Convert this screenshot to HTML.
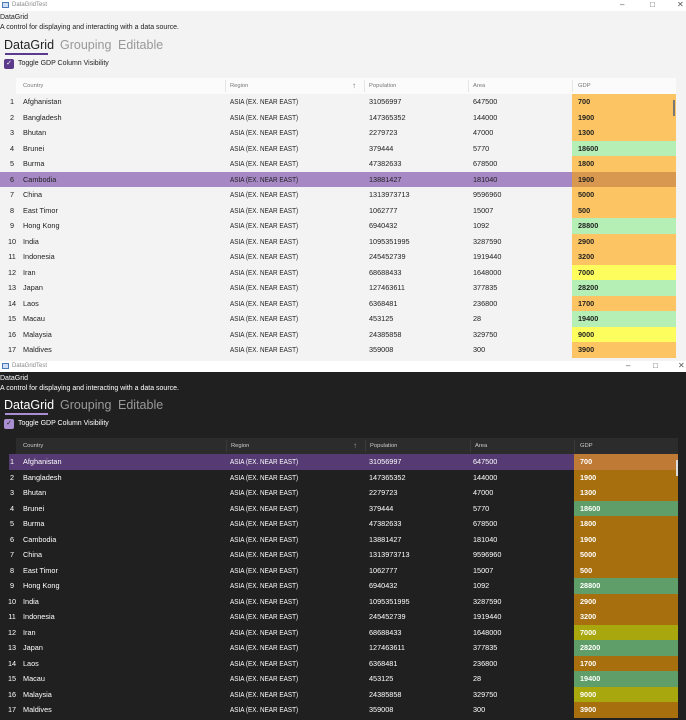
<!DOCTYPE html>
<html><head><meta charset="utf-8"><style>
*{margin:0;padding:0;box-sizing:border-box}
body{width:686px;height:720px;overflow:hidden;font-family:"Liberation Sans",sans-serif;position:relative;background:#f3f3f3}
.win{position:absolute;left:0;width:686px;overflow:hidden}
.tb{position:absolute;left:0;top:0;width:686px;height:11px;background:#fff;font-size:6px;color:#888}
.tb .t{position:absolute;left:12px;top:2px}
.tb .ic{position:absolute;left:2px;top:2px;width:7px;height:6px;border:1px solid #4a7ab8;background:#cfe0f5}
.tb .c{position:absolute;top:0;font-size:8px;color:#555}
.abs{position:absolute;white-space:nowrap}
.h1{font-size:7px;left:0}
.tab{font-size:12.5px;top:0}
.row{position:absolute;left:0;width:686px;height:15.5px;font-size:7.3px;line-height:15.5px}
.row span{position:absolute;top:0;line-height:15.5px}
.n{left:8px;width:8px;text-align:center}
.c1{left:23px}.c2{left:230px;transform:scaleX(0.87);transform-origin:0 50%}.c3{left:369px}.c4{left:473px}
.g{font-weight:bold;padding-left:6px;width:104px}
.hdr{position:absolute;height:16px;font-size:5.8px;line-height:16px}
.hdr span{position:absolute;top:0}
.sep{position:absolute;top:2px;width:1px;height:12px}
</style></head><body>

<!-- LIGHT -->
<div class="win" style="top:0;height:361px;background:#f3f3f3;color:#222">
<div class="tb"><div class="ic"></div><span class="t">DataGridTest</span><span class="c" style="left:620px">&#8211;</span><span class="c" style="left:650px">&#9633;</span><span class="c" style="left:677px">&#10005;</span></div>
<div class="abs h1" style="top:14px">DataGrid</div>
<div class="abs h1" style="top:24px">A control for displaying and interacting with a data source.</div>
<div class="abs tab" style="left:4px;top:38px;color:#222">DataGrid</div>
<div class="abs tab" style="left:60px;top:38px;color:#999">Grouping</div>
<div class="abs tab" style="left:118px;top:38px;color:#999">Editable</div>
<div class="abs" style="left:5px;top:53px;width:43px;height:2px;background:#5c3a8e"></div>
<div class="abs" style="left:4px;top:59px;width:10px;height:10px;background:#5b3a8c;border-radius:2px;color:#fff;font-size:7px;line-height:10px;text-align:center">&#10003;</div>
<div class="abs" style="left:18px;top:60px;font-size:7px">Toggle GDP Column Visibility</div>
<div class="hdr" style="left:16px;top:78px;width:660px;background:#fbfbfb;color:#777">
<span style="left:7px">Country</span><span style="left:214px">Region</span><span style="left:336px;font-size:8px">&#8593;</span><span style="left:353px">Population</span><span style="left:457px">Area</span><span style="left:562px">GDP</span>
<div class="sep" style="left:209px;background:#e6e6e6"></div><div class="sep" style="left:348px;background:#e6e6e6"></div><div class="sep" style="left:452px;background:#e6e6e6"></div><div class="sep" style="left:556px;background:#e6e6e6"></div>
</div>
<div style="position:absolute;left:0;top:94px">
<div class="row" style="top:0"><span class="n">1</span><span class="c1">Afghanistan</span><span class="c2">ASIA (EX. NEAR EAST)</span><span class="c3">31056997</span><span class="c4">647500</span><span class="g" style="left:572px;background:#fcc462">700</span></div>
<div class="row" style="top:15.5px"><span class="n">2</span><span class="c1">Bangladesh</span><span class="c2">ASIA (EX. NEAR EAST)</span><span class="c3">147365352</span><span class="c4">144000</span><span class="g" style="left:572px;background:#fcc462">1900</span></div>
<div class="row" style="top:31px"><span class="n">3</span><span class="c1">Bhutan</span><span class="c2">ASIA (EX. NEAR EAST)</span><span class="c3">2279723</span><span class="c4">47000</span><span class="g" style="left:572px;background:#fcc462">1300</span></div>
<div class="row" style="top:46.5px"><span class="n">4</span><span class="c1">Brunei</span><span class="c2">ASIA (EX. NEAR EAST)</span><span class="c3">379444</span><span class="c4">5770</span><span class="g" style="left:572px;background:#b5efb5">18600</span></div>
<div class="row" style="top:62px"><span class="n">5</span><span class="c1">Burma</span><span class="c2">ASIA (EX. NEAR EAST)</span><span class="c3">47382633</span><span class="c4">678500</span><span class="g" style="left:572px;background:#fcc462">1800</span></div>
<div class="row" style="top:77.5px;background:linear-gradient(90deg,#a688c4 0,#a688c4 572px,transparent 572px)"><span class="n">6</span><span class="c1">Cambodia</span><span class="c2">ASIA (EX. NEAR EAST)</span><span class="c3">13881427</span><span class="c4">181040</span><span class="g" style="left:572px;background:#d9984f">1900</span></div>
<div class="row" style="top:93px"><span class="n">7</span><span class="c1">China</span><span class="c2">ASIA (EX. NEAR EAST)</span><span class="c3">1313973713</span><span class="c4">9596960</span><span class="g" style="left:572px;background:#fcc462">5000</span></div>
<div class="row" style="top:108.5px"><span class="n">8</span><span class="c1">East Timor</span><span class="c2">ASIA (EX. NEAR EAST)</span><span class="c3">1062777</span><span class="c4">15007</span><span class="g" style="left:572px;background:#fcc462">500</span></div>
<div class="row" style="top:124px"><span class="n">9</span><span class="c1">Hong Kong</span><span class="c2">ASIA (EX. NEAR EAST)</span><span class="c3">6940432</span><span class="c4">1092</span><span class="g" style="left:572px;background:#b5efb5">28800</span></div>
<div class="row" style="top:139.5px"><span class="n">10</span><span class="c1">India</span><span class="c2">ASIA (EX. NEAR EAST)</span><span class="c3">1095351995</span><span class="c4">3287590</span><span class="g" style="left:572px;background:#fcc462">2900</span></div>
<div class="row" style="top:155px"><span class="n">11</span><span class="c1">Indonesia</span><span class="c2">ASIA (EX. NEAR EAST)</span><span class="c3">245452739</span><span class="c4">1919440</span><span class="g" style="left:572px;background:#fcc462">3200</span></div>
<div class="row" style="top:170.5px"><span class="n">12</span><span class="c1">Iran</span><span class="c2">ASIA (EX. NEAR EAST)</span><span class="c3">68688433</span><span class="c4">1648000</span><span class="g" style="left:572px;background:#fdfd5e">7000</span></div>
<div class="row" style="top:186px"><span class="n">13</span><span class="c1">Japan</span><span class="c2">ASIA (EX. NEAR EAST)</span><span class="c3">127463611</span><span class="c4">377835</span><span class="g" style="left:572px;background:#b5efb5">28200</span></div>
<div class="row" style="top:201.5px"><span class="n">14</span><span class="c1">Laos</span><span class="c2">ASIA (EX. NEAR EAST)</span><span class="c3">6368481</span><span class="c4">236800</span><span class="g" style="left:572px;background:#fcc462">1700</span></div>
<div class="row" style="top:217px"><span class="n">15</span><span class="c1">Macau</span><span class="c2">ASIA (EX. NEAR EAST)</span><span class="c3">453125</span><span class="c4">28</span><span class="g" style="left:572px;background:#b5efb5">19400</span></div>
<div class="row" style="top:232.5px"><span class="n">16</span><span class="c1">Malaysia</span><span class="c2">ASIA (EX. NEAR EAST)</span><span class="c3">24385858</span><span class="c4">329750</span><span class="g" style="left:572px;background:#fdfd5e">9000</span></div>
<div class="row" style="top:248px"><span class="n">17</span><span class="c1">Maldives</span><span class="c2">ASIA (EX. NEAR EAST)</span><span class="c3">359008</span><span class="c4">300</span><span class="g" style="left:572px;background:#fcc462">3900</span></div>
</div>
<div class="abs" style="left:673px;top:100px;width:1.5px;height:16px;background:#777"></div>
</div>

<!-- DARK -->
<div class="win" style="top:361px;height:359px;background:#202020;color:#fff">
<div class="tb"><div class="ic"></div><span class="t">DataGridTest</span><span class="c" style="left:626px">&#8211;</span><span class="c" style="left:653px">&#9633;</span><span class="c" style="left:678px">&#10005;</span></div>
<div class="abs h1" style="top:14px">DataGrid</div>
<div class="abs h1" style="top:24px">A control for displaying and interacting with a data source.</div>
<div class="abs tab" style="left:4px;top:37px;color:#fff">DataGrid</div>
<div class="abs tab" style="left:60px;top:37px;color:#999">Grouping</div>
<div class="abs tab" style="left:118px;top:37px;color:#999">Editable</div>
<div class="abs" style="left:5px;top:52px;width:43px;height:2px;background:#a98fd1"></div>
<div class="abs" style="left:4px;top:58px;width:10px;height:10px;background:#a98fd1;border-radius:2px;color:#202020;font-size:7px;line-height:10px;text-align:center">&#10003;</div>
<div class="abs" style="left:18px;top:59px;font-size:7px">Toggle GDP Column Visibility</div>
<div class="hdr" style="left:16px;top:77px;width:662px;background:#2c2c2c;color:#ccc">
<span style="left:7px">Country</span><span style="left:215px">Region</span><span style="left:337px;font-size:8px;color:#999">&#8593;</span><span style="left:354px">Population</span><span style="left:459px">Area</span><span style="left:564px">GDP</span>
<div class="sep" style="left:210px;background:#3a3a3a"></div><div class="sep" style="left:349px;background:#3a3a3a"></div><div class="sep" style="left:454px;background:#3a3a3a"></div><div class="sep" style="left:558px;background:#3a3a3a"></div>
</div>
<div style="position:absolute;left:0;top:93.3px">
<div class="row" style="top:0;background:linear-gradient(90deg,transparent 0,transparent 9px,#553a73 9px,#553a73 574px,transparent 574px)"><span class="n">1</span><span class="c1">Afghanistan</span><span class="c2">ASIA (EX. NEAR EAST)</span><span class="c3">31056997</span><span class="c4">647500</span><span class="g" style="left:574px;background:#bf7a36">700</span></div>
<div class="row" style="top:15.5px"><span class="n">2</span><span class="c1">Bangladesh</span><span class="c2">ASIA (EX. NEAR EAST)</span><span class="c3">147365352</span><span class="c4">144000</span><span class="g" style="left:574px;background:#a86f0e">1900</span></div>
<div class="row" style="top:31px"><span class="n">3</span><span class="c1">Bhutan</span><span class="c2">ASIA (EX. NEAR EAST)</span><span class="c3">2279723</span><span class="c4">47000</span><span class="g" style="left:574px;background:#a86f0e">1300</span></div>
<div class="row" style="top:46.5px"><span class="n">4</span><span class="c1">Brunei</span><span class="c2">ASIA (EX. NEAR EAST)</span><span class="c3">379444</span><span class="c4">5770</span><span class="g" style="left:574px;background:#5f9e68">18600</span></div>
<div class="row" style="top:62px"><span class="n">5</span><span class="c1">Burma</span><span class="c2">ASIA (EX. NEAR EAST)</span><span class="c3">47382633</span><span class="c4">678500</span><span class="g" style="left:574px;background:#a86f0e">1800</span></div>
<div class="row" style="top:77.5px"><span class="n">6</span><span class="c1">Cambodia</span><span class="c2">ASIA (EX. NEAR EAST)</span><span class="c3">13881427</span><span class="c4">181040</span><span class="g" style="left:574px;background:#a86f0e">1900</span></div>
<div class="row" style="top:93px"><span class="n">7</span><span class="c1">China</span><span class="c2">ASIA (EX. NEAR EAST)</span><span class="c3">1313973713</span><span class="c4">9596960</span><span class="g" style="left:574px;background:#a86f0e">5000</span></div>
<div class="row" style="top:108.5px"><span class="n">8</span><span class="c1">East Timor</span><span class="c2">ASIA (EX. NEAR EAST)</span><span class="c3">1062777</span><span class="c4">15007</span><span class="g" style="left:574px;background:#a86f0e">500</span></div>
<div class="row" style="top:124px"><span class="n">9</span><span class="c1">Hong Kong</span><span class="c2">ASIA (EX. NEAR EAST)</span><span class="c3">6940432</span><span class="c4">1092</span><span class="g" style="left:574px;background:#5f9e68">28800</span></div>
<div class="row" style="top:139.5px"><span class="n">10</span><span class="c1">India</span><span class="c2">ASIA (EX. NEAR EAST)</span><span class="c3">1095351995</span><span class="c4">3287590</span><span class="g" style="left:574px;background:#a86f0e">2900</span></div>
<div class="row" style="top:155px"><span class="n">11</span><span class="c1">Indonesia</span><span class="c2">ASIA (EX. NEAR EAST)</span><span class="c3">245452739</span><span class="c4">1919440</span><span class="g" style="left:574px;background:#a86f0e">3200</span></div>
<div class="row" style="top:170.5px"><span class="n">12</span><span class="c1">Iran</span><span class="c2">ASIA (EX. NEAR EAST)</span><span class="c3">68688433</span><span class="c4">1648000</span><span class="g" style="left:574px;background:#a8a80e">7000</span></div>
<div class="row" style="top:186px"><span class="n">13</span><span class="c1">Japan</span><span class="c2">ASIA (EX. NEAR EAST)</span><span class="c3">127463611</span><span class="c4">377835</span><span class="g" style="left:574px;background:#5f9e68">28200</span></div>
<div class="row" style="top:201.5px"><span class="n">14</span><span class="c1">Laos</span><span class="c2">ASIA (EX. NEAR EAST)</span><span class="c3">6368481</span><span class="c4">236800</span><span class="g" style="left:574px;background:#a86f0e">1700</span></div>
<div class="row" style="top:217px"><span class="n">15</span><span class="c1">Macau</span><span class="c2">ASIA (EX. NEAR EAST)</span><span class="c3">453125</span><span class="c4">28</span><span class="g" style="left:574px;background:#5f9e68">19400</span></div>
<div class="row" style="top:232.5px"><span class="n">16</span><span class="c1">Malaysia</span><span class="c2">ASIA (EX. NEAR EAST)</span><span class="c3">24385858</span><span class="c4">329750</span><span class="g" style="left:574px;background:#a8a80e">9000</span></div>
<div class="row" style="top:248px"><span class="n">17</span><span class="c1">Maldives</span><span class="c2">ASIA (EX. NEAR EAST)</span><span class="c3">359008</span><span class="c4">300</span><span class="g" style="left:574px;background:#a86f0e">3900</span></div>
</div>
<div class="abs" style="left:676px;top:99px;width:1.5px;height:16px;background:#ddd"></div>
</div>
</body></html>
